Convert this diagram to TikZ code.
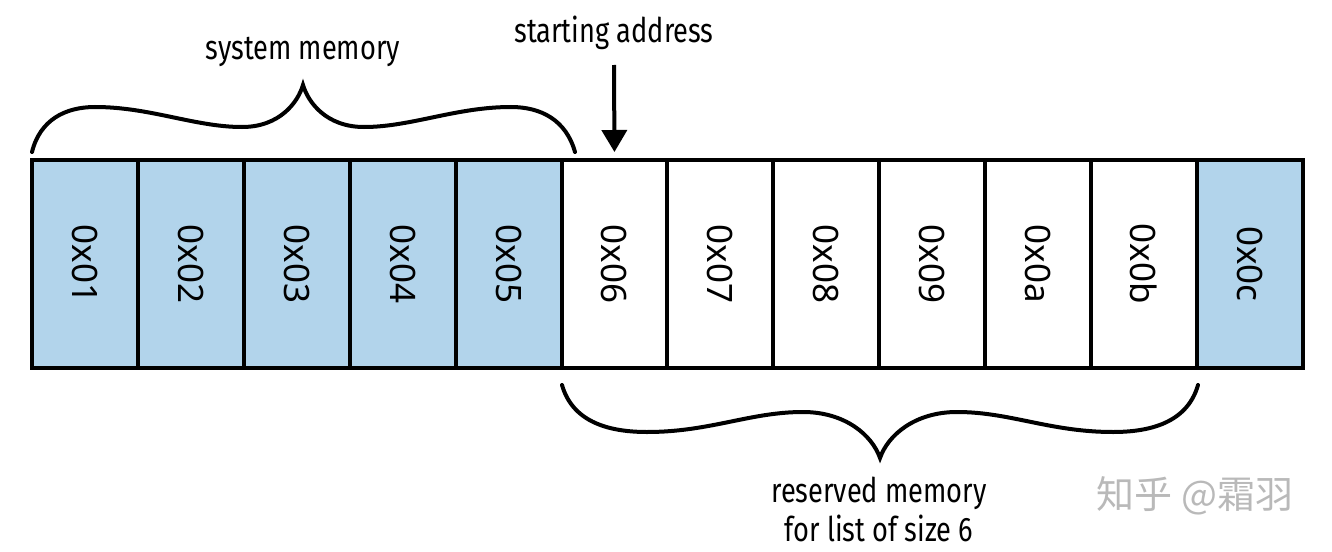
\documentclass[tikz,border=0pt]{standalone}
\usepackage{fontspec}
\setmainfont{Noto Sans}
\newfontfamily\capfont[FakeStretch=0.8]{Fira Sans}
\newfontfamily\cjkfont{Noto Sans CJK SC}
\usetikzlibrary{arrows.meta}
\definecolor{memblue}{RGB}{178,212,235}
\tikzset{
	cell/.style={draw, line width=2pt, minimum width=52.95pt, minimum height=104pt, inner sep=0pt, outer sep=0pt},
	addr/.style={rotate=-90, font=\fontsize{17.5}{20}\selectfont},
	caption/.style={font=\capfont\fontsize{17}{19.5}\selectfont, align=center},
	brace/.style={line width=2pt, line cap=round}
}
\begin{document}
\begin{tikzpicture}[x=0.5pt, y=-0.5pt]
		\useasboundingbox (0,0) rectangle (1332,551);
		%memory cells
		\foreach \i/\lbl/\fillc in {1/01/memblue, 2/02/memblue, 3/03/memblue, 4/04/memblue, 5/05/memblue, 6/06/white, 7/07/white, 8/08/white, 9/09/white, 10/0a/white, 11/0b/white, 12/0c/memblue}{
			\node[cell, fill=\fillc] (c\i) at (-20.9+105.9*\i, 264){};
			\node[addr] (l\i) at (c\i){0x\lbl};
		}
		
		%system memory brace
		\draw[brace] (32,152) .. controls (40,120) and (65,107) .. (95,107)
			.. controls (150,107) and (195,127) .. (242,127)
			.. controls (280,127) and (298,102) .. (303,85)
			.. controls (308,102) and (326,127) .. (364,127)
			.. controls (411,127) and (456,107) .. (511,107)
			.. controls (541,107) and (566,120) .. (575,152);
		\node[caption] (sys) at (303,52){system memory};
		
		%starting address
		\node[caption] (start) at (614,33){starting address};
		\coordinate (arrtop) at (614,65);
		\draw[line width=2pt, -{Triangle[width=12.5pt, length=11pt]}, shorten >=4pt] (arrtop) -- (c6.north);
		
		%reserved memory brace
		\draw[brace] (562,385) .. controls (572,420) and (605,432) .. (647,432)
			.. controls (710,432) and (750,412) .. (803,412)
			.. controls (845,412) and (872,435) .. (880,458)
			.. controls (888,435) and (915,412) .. (957,412)
			.. controls (1010,412) and (1050,432) .. (1113,432)
			.. controls (1155,432) and (1188,420) .. (1198,385);
		\node[caption] (res) at (879,509){reserved memory\\for list of size 6};
		
		\node[text=gray!55, font=\cjkfont\fontsize{19}{19}\selectfont] (mark) at (1195,496){知乎 @霜羽};
\end{tikzpicture}
\end{document}
